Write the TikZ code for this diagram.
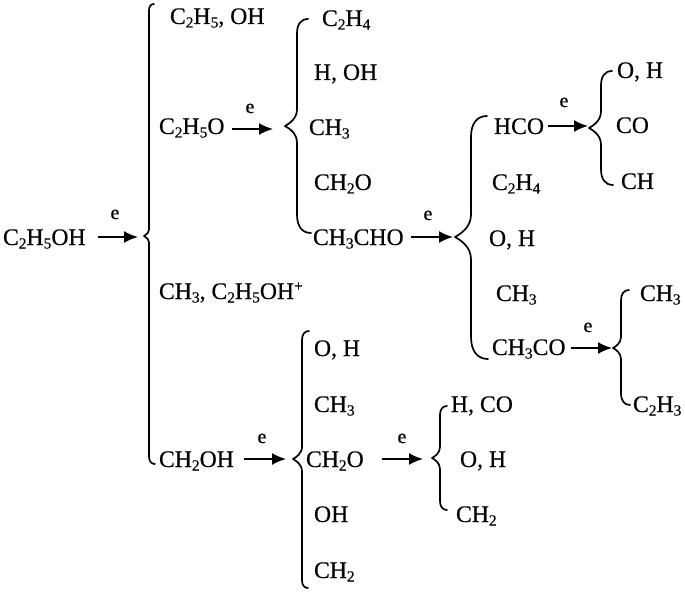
\documentclass[tikz,border=0pt]{standalone}
\usepackage{fontspec}
\setmainfont{Liberation Serif}
\newfontfamily\chemfont[RawFeature={embolden=0.3}]{Liberation Serif}
\newfontfamily\elecfont[RawFeature={embolden=0.8}]{Liberation Serif}
\usetikzlibrary{arrows.meta}
\newcommand\dn[1]{\raisebox{-3.5bp}{\fontsize{15.5}{16}\selectfont #1}}
\newcommand\brc[7]{%
  \draw[bracepath] (#4,#5) .. controls ({#1+0.35*(#4-#1)},#5) and (#1,{#5+0.5*(#4-#1)}) .. (#1,{#5+1.3*(#4-#1)})
    -- (#1,{#3-1.4*(#1-#2)}) .. controls (#1,{#3-0.6*(#1-#2)}) and ({#2+0.35*(#1-#2)},{#3-0.2*(#1-#2)}) .. (#2,#3)
    .. controls ({#2+0.35*(#1-#2)},{#3+0.2*(#1-#2)}) and (#1,{#3+0.6*(#1-#2)}) .. (#1,{#3+1.4*(#1-#2)})
    -- (#1,{#7-1.3*(#6-#1)}) .. controls (#1,{#7-0.5*(#6-#1)}) and ({#1+0.35*(#6-#1)},#7) .. (#6,#7);}
\tikzset{
  chem/.style={anchor=base west,inner sep=0pt,outer sep=0pt,font=\chemfont\fontsize{23.8}{26}\selectfont,text=black},
  elec/.style={anchor=base,inner sep=0pt,font=\elecfont\fontsize{20}{22}\selectfont,text=black},
  bracepath/.style={line width=1.7pt,draw=black,line cap=round,line join=round},
  react/.style={line width=1.9pt,draw=black,-{Latex[length=14bp,width=12bp]}}
}
\begin{document}
\begin{tikzpicture}[x=1bp,y=-1bp]
\useasboundingbox (0,0) rectangle (685,593);
% nodes
\node[chem] (root) at (3,245) {C\dn{2}H\dn{5}OH};
\node[chem] (a1) at (170,24) {C\dn{2}H\dn{5}, OH};
\node[chem] (a2) at (159,134) {C\dn{2}H\dn{5}O};
\node[chem] (a3) at (159,299) {CH\dn{3}, C\dn{2}H\dn{5}OH\raisebox{8bp}{\fontsize{15.5}{16}\selectfont +}};
\node[chem] (a4) at (159,467) {CH\dn{2}OH};
\node[chem] (b1) at (322,26) {C\dn{2}H\dn{4}};
\node[chem] (b2) at (314,80) {H, OH};
\node[chem] (b3) at (309,135) {CH\dn{3}};
\node[chem] (b4) at (314,190) {CH\dn{2}O};
\node[chem] (b5) at (313,245) {CH\dn{3}CHO};
\node[chem] (c1) at (494,134) {HCO};
\node[chem] (c2) at (492,190) {C\dn{2}H\dn{4}};
\node[chem] (c3) at (489,246) {O, H};
\node[chem] (c4) at (496,301) {CH\dn{3}};
\node[chem] (c5) at (492,355) {CH\dn{3}CO};
\node[chem] (d1) at (617,78) {O, H};
\node[chem] (d2) at (616,133) {CO};
\node[chem] (d3) at (621,189) {CH};
\node[chem] (e1) at (640,301) {CH\dn{3}};
\node[chem] (e2) at (633,412) {C\dn{2}H\dn{3}};
\node[chem] (f1) at (314,356) {O, H};
\node[chem] (f2) at (314,412) {CH\dn{3}};
\node[chem] (f3) at (306,467) {CH\dn{2}O};
\node[chem] (f4) at (314,522) {OH};
\node[chem] (f5) at (314,578) {CH\dn{2}};
\node[chem] (g1) at (451,412) {H, CO};
\node[chem] (g2) at (460,467) {O, H};
\node[chem] (g3) at (456,522) {CH\dn{2}};
% electron labels
\node[elec] (e-a) at (115,219) {e};
\node[elec] (e-b) at (250,113) {e};
\node[elec] (e-c) at (428,220) {e};
\node[elec] (e-d) at (564,107) {e};
\node[elec] (e-e) at (588,332) {e};
\node[elec] (e-f) at (262,443) {e};
\node[elec] (e-g) at (402,443) {e};
% arrow ends
\coordinate (ta) at (138,237);
\coordinate (tb) at (273,129);
\coordinate (tc) at (453,237);
\coordinate (td) at (588,126);
\coordinate (te) at (612,348);
\coordinate (tf) at (286,459);
\coordinate (tg) at (423,459);
\draw[react,shorten <=12bp] (root.east |- ta) -- (ta);
\draw[react,shorten <=7bp] (a2.east |- tb) -- (tb);
\draw[react,shorten <=7bp] (b5.east |- tc) -- (tc);
\draw[react,shorten <=4bp] (c1.east |- td) -- (td);
\draw[react,shorten <=5bp] (c5.east |- te) -- (te);
\draw[react,shorten <=10bp] (a4.east |- tf) -- (tf);
\draw[react,shorten <=18bp] (f3.east |- tg) -- (tg);
% braces: spine, tip x, tip y, top x, top y, bottom x, bottom y
\brc{149}{144}{236}{154}{4}{155}{464}
\brc{297}{285}{126}{308}{19}{311}{233}
\brc{471}{455}{237}{487}{116}{488}{359}
\brc{601}{589}{128}{612}{71}{613}{185}
\brc{621}{613}{348}{629}{290}{630}{405}
\brc{302}{293}{459}{309}{331}{308}{588}
\brc{440}{432}{458}{447}{406}{447}{510}
\end{tikzpicture}
\end{document}
